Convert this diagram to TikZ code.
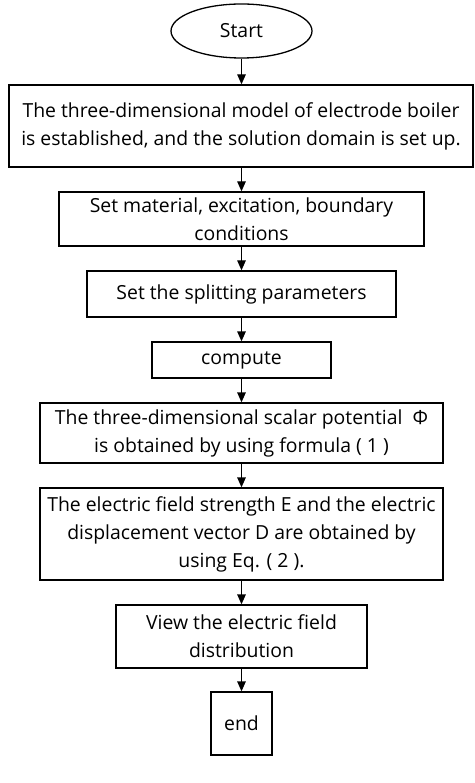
\documentclass[tikz,border=0pt]{standalone}
\usepackage{fontspec}
\setmainfont{Open Sans}
\usetikzlibrary{arrows.meta,shapes.geometric}
\begin{document}
\begin{tikzpicture}[x=1pt,y=1pt,
  every node/.style={font=\fontsize{19.4}{28}\selectfont, text=black},
  box/.style={draw, line width=1.3pt, align=center, inner sep=0pt},
  term/.style={draw, ellipse, line width=1.3pt, inner sep=0pt},
  arr/.style={line width=1.3pt, -{Triangle[length=10pt,width=8.5pt]}}]
\useasboundingbox (0,0) rectangle (474,-783);
\node[term, minimum width=141pt, minimum height=54pt] (s) at (241.5,-31) {Start};
\node[box, minimum width=464pt, minimum height=82pt] (b1) at (241,-126) {The three-dimensional model of electrode boiler\\is established, and the solution domain is set up.};
\node[box, minimum width=365pt, minimum height=54pt] (b2) at (241.5,-219) {Set material, excitation, boundary\\conditions};
\node[box, minimum width=309pt, minimum height=46pt] (b3) at (241.5,-294) {Set the splitting parameters};
\node[box, minimum width=179pt, minimum height=36pt] (b4) at (241.5,-360) {compute};
\node[box, minimum width=403pt, minimum height=60pt] (b5) at (241.5,-433) {The three-dimensional scalar potential \ Φ\\is obtained by using formula ( 1 )};
\node[box, minimum width=403pt, minimum height=92pt] (b6) at (241.5,-534) {The electric field strength E and the electric\\displacement vector D are obtained by\\using Eq. ( 2 ).};
\node[box, minimum width=251pt, minimum height=63pt] (b7) at (241.5,-636.5) {View the electric field\\distribution};
\node[box, minimum width=61pt, minimum height=63pt] (b8) at (241.5,-723.5) {end};
\draw[arr] (s) -- (s |- b1.north);
\draw[arr] (b1.south -| s) -- (s |- b2.north);
\draw[arr] (b2) -- (b3);
\draw[arr] (b3) -- (b4);
\draw[arr] (b4) -- (b5);
\draw[arr] (b5) -- (b6);
\draw[arr] (b6) -- (b7);
\draw[arr] (b7) -- (b8);
\end{tikzpicture}
\end{document}
